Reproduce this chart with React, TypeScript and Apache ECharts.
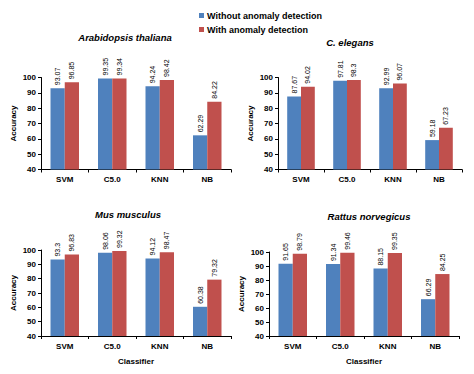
import React, { useEffect, useRef } from "react";
import * as echarts from "echarts";

const categories = ["SVM", "C5.0", "KNN", "NB"];
const seriesNames = ["Without anomaly detection", "With anomaly detection"];
const titles = ["Arabidopsis thaliana", "C. elegans", "Mus musculus", "Rattus norvegicus"];

const arabidopsisWithout = [93.07, 99.35, 94.24, 62.29];
const arabidopsisWith = [96.85, 99.34, 98.42, 84.22];
const elegansWithout = [87.67, 97.81, 92.99, 59.18];
const elegansWith = [94.02, 98.3, 96.07, 67.23];
const musWithout = [93.3, 98.06, 94.12, 60.38];
const musWith = [96.83, 99.32, 98.47, 79.32];
const rattusWithout = [91.65, 91.34, 88.15, 66.29];
const rattusWith = [98.79, 99.46, 99.35, 84.25];

const panelData = [
  [arabidopsisWithout, arabidopsisWith],
  [elegansWithout, elegansWith],
  [musWithout, musWith],
  [rattusWithout, rattusWith],
];

const colors = ["#4F81BD", "#C0504D"];

const OFF = 8;
const grids = [
  { left: 41 - OFF, top: 77.5 - OFF, width: 190, height: 92 },
  { left: 278 - OFF, top: 77.5 - OFF, width: 184, height: 92 },
  { left: 41 - OFF, top: 250 - OFF, width: 190, height: 93 },
  { left: 269 - OFF, top: 252 - OFF, width: 190, height: 93 },
];
const titlePos = [
  { x: 125 - OFF, y: 37 - OFF },
  { x: 350 - OFF, y: 42 - OFF },
  { x: 128 - OFF, y: 214 - OFF },
  { x: 369 - OFF, y: 216 - OFF },
];

const FONT = "Liberation Sans, Arial, sans-serif";

export default function App() {
  const ref = useRef<HTMLDivElement>(null);
  useEffect(() => {
    if (!ref.current) return;
    const chart = echarts.init(ref.current, null, { renderer: "svg" });
    const xAxis: any[] = [];
    const yAxis: any[] = [];
    const series: any[] = [];
    const graphics: any[] = [];
    grids.forEach((g, i) => {
      xAxis.push({
        type: "category",
        gridIndex: i,
        data: categories,
        axisLine: { lineStyle: { color: "#000", width: 1 } },
        axisTick: { show: true, length: 3, lineStyle: { color: "#000" } },
        axisLabel: { color: "#000", fontWeight: "bold", fontSize: 8, fontFamily: FONT, margin: 6 },
        name: i >= 2 ? "Classifier" : "",
        nameLocation: "middle",
        nameGap: 21,
        nameTextStyle: { color: "#000", fontWeight: "bold", fontSize: 8, fontFamily: FONT },
      });
      yAxis.push({
        type: "value",
        gridIndex: i,
        min: 40,
        max: 100,
        interval: 10,
        axisLine: { show: true, lineStyle: { color: "#000", width: 1 } },
        axisTick: { show: true, length: 3, lineStyle: { color: "#000" } },
        splitLine: { show: false },
        axisLabel: { color: "#000", fontWeight: "bold", fontSize: 8, fontFamily: FONT, margin: 5 },
        name: "Accuracy",
        nameLocation: "middle",
        nameGap: 24,
        nameTextStyle: { color: "#000", fontWeight: "bold", fontSize: 8, fontFamily: FONT },
      });
      panelData[i].forEach((vals, s) => {
        series.push({
          type: "bar",
          name: seriesNames[s],
          xAxisIndex: i,
          yAxisIndex: i,
          data: vals,
          barGap: "0%",
          barCategoryGap: "40%",
          itemStyle: { color: colors[s] },
          label: {
            show: true,
            position: "top",
            rotate: 90,
            align: "left",
            verticalAlign: "middle",
            distance: 3,
            fontSize: 7,
            color: "#000",
            textBorderWidth: 0,
            fontFamily: FONT,
            formatter: (p: any) => String(p.value),
          },
        });
      });
      graphics.push({
        type: "text",
        x: titlePos[i].x,
        y: titlePos[i].y,
        style: {
          text: titles[i],
          fontSize: 9.5,
          fontWeight: "bold",
          fontStyle: "italic",
          fontFamily: FONT,
          fill: "#000",
          align: "center",
          verticalAlign: "middle",
        },
      });
    });
    chart.setOption({
      animation: false,
      backgroundColor: "#fff",
      legend: {
        data: seriesNames,
        orient: "vertical",
        left: 194 - OFF,
        top: 5 - OFF + 1,
        itemWidth: 5,
        itemHeight: 5,
        itemGap: 5,
        icon: "rect",
        textStyle: { color: "#000", fontWeight: "bold", fontSize: 9, fontFamily: FONT, padding: [0, 0, 0, -2] },
      },
      grid: grids.map((g) => ({ ...g, containLabel: false })),
      xAxis,
      yAxis,
      series,
      graphic: graphics,
    });
    return () => chart.dispose();
  }, []);
  return <div ref={ref} style={{ width: 458, height: 358 }} />;
}
